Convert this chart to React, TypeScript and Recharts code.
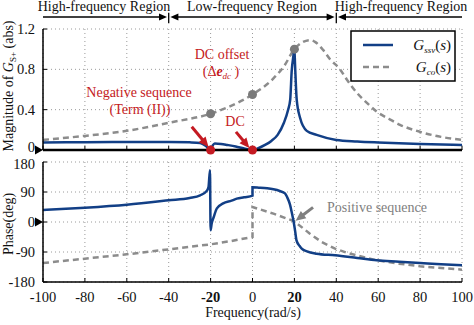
import React from "react";
import {
  LineChart,
  Line,
  XAxis,
  YAxis,
  CartesianGrid,
  ReferenceDot,
  ReferenceLine,
} from "recharts";

// axis ticks
const freqTicks = [-100, -80, -60, -40, -20, 0, 20, 40, 60, 80, 100];
const magTicks = [0, 0.2, 0.4, 0.6, 0.8, 1, 1.2];
const phaseTicks = [-180, -90, 0, 90, 180];

// magnitude, G_ssv(s)
const ssvMagFreq = [-100, -80, -60, -40, -30, -25, -22, -20, -19, -18, -15, -12, -8, -4, 0, 3, 6, 9, 12, 15, 17, 18, 18.7, 19.5, 20, 20.3, 21.1, 22.7, 25.9, 30.6, 40, 50, 60, 80, 100];
const ssvMag = [0.075, 0.078, 0.08, 0.08, 0.076, 0.07, 0.035, 0, 0.045, 0.065, 0.06, 0.05, 0.035, 0.015, 0, 0.02, 0.05, 0.09, 0.15, 0.27, 0.4, 0.5, 0.78, 0.93, 1.0, 0.85, 0.5, 0.32, 0.19, 0.15, 0.1, 0.085, 0.075, 0.06, 0.05];

// magnitude, G_co(s)
const coMagFreq = [-100, -80, -60, -40, -20, -10, 0, 10, 15, 20, 24, 27.4, 30, 33.8, 37, 41.8, 45, 49.7, 55, 59.3, 65, 70.4, 80, 90, 100];
const coMag = [0.1, 0.14, 0.19, 0.27, 0.36, 0.44, 0.55, 0.71, 0.83, 1.0, 1.07, 1.09, 1.07, 0.99, 0.9, 0.8, 0.7, 0.57, 0.46, 0.38, 0.31, 0.25, 0.18, 0.13, 0.1];

// phase (deg), G_ssv(s)
const ssvPhaseFreq = [-100, -80, -60, -40, -30, -25, -22, -21, -20.3, -20, -19.5, -18.5, -17, -14, -10, -7.5, -4, 0, 0, 3, 7, 10, 13, 15.5, 16.5, 17.9, 18.7, 19.5, 20.3, 21, 22.5, 23.5, 26, 30.6, 39.4, 50, 59.3, 70, 80, 90, 100];
const ssvPhase = [36, 43, 52, 65, 72, 80, 92, 105, 155, -25, -5, 15, 41, 56, 64, 70, 74, 79, 104, 103, 101, 98, 93, 86, 75, 52, 30, 5, -25, -55, -72, -80, -88, -95, -100, -108, -115, -119, -123, -127, -130];

// phase (deg), G_co(s)
const coPhaseFreq = [-100, -80, -60, -40, -20, -10, 0, 0, 10, 20, 24, 27.4, 33, 39.4, 45, 49.7, 59.3, 70, 80, 90, 100];
const coPhase = [-123, -110, -97, -82, -67, -57, -45, 45, 25, 2, -18, -35, -60, -80, -92, -100, -115, -125, -133, -138, -143];

const zip = (xs: number[], ys: number[]) => xs.map((f, i) => ({ f, v: ys[i] }));

const BLUE = "#123f86";
const GREY = "#8c8c8c";
const RED = "#c41a22";
const FONT = "'Liberation Serif', 'DejaVu Serif', Times, serif";

const noTick = () => <g />;

// shift: small vertical nudge for labels that would touch the other panel
const yTick = (shift: Record<string, number>) => (p: any) => (
  <text x={p.x} y={p.y + (shift[String(p.payload.value)] || 0)} dy="0.35em" textAnchor="end" fontSize={14.5} fontFamily={FONT} fill="#111">
    {String(p.payload.value)}
  </text>
);

const xTick = (p: any) => {
  const v = p.payload.value;
  return (
    <text x={p.x} y={p.y} dy="0.35em" textAnchor="middle" fontSize={14.5} fontFamily={FONT} fill="#111" fontWeight={Math.abs(v) === 20 ? "bold" : "normal"}>
      {v}
    </text>
  );
};

// line with arrow heads, used through ReferenceLine segments
const arrowShape = (color: string, w: number, len: number, atStart: boolean, atEnd: boolean) => (p: any) => {
  const { x1, y1, x2, y2 } = p;
  const a = Math.atan2(y2 - y1, x2 - x1);
  const hw = len * 0.45;
  const head = (x: number, y: number, ang: number) => {
    const bx = x - len * Math.cos(ang);
    const by = y - len * Math.sin(ang);
    const px = -Math.sin(ang) * hw;
    const py = Math.cos(ang) * hw;
    return <polygon points={`${x},${y} ${bx + px},${by + py} ${bx - px},${by - py}`} fill={color} />;
  };
  const sx = atStart ? x1 + len * 0.8 * Math.cos(a) : x1;
  const sy = atStart ? y1 + len * 0.8 * Math.sin(a) : y1;
  const ex = atEnd ? x2 - len * 0.8 * Math.cos(a) : x2;
  const ey = atEnd ? y2 - len * 0.8 * Math.sin(a) : y2;
  return (
    <g>
      <line x1={sx} y1={sy} x2={ex} y2={ey} stroke={color} strokeWidth={w} />
      {atStart && head(x1, y1, a + Math.PI)}
      {atEnd && head(x2, y2, a)}
    </g>
  );
};

const triangle = (p: any) => (
  <polygon points={`${p.cx - 8},${p.cy - 4.5} ${p.cx},${p.cy} ${p.cx - 8},${p.cy + 4.5}`} fill="#000" />
);

const axisStroke = { stroke: "#000", strokeWidth: 1.5 };

export default function App() {
  return (
    <div style={{ position: "absolute", left: 0, top: 0, width: 474, height: 325, background: "#fff", fontFamily: FONT }}>
      <div style={{ position: "absolute", left: 0, top: 0 }}>
        <LineChart width={474} height={160} margin={{ top: 29, right: 12, bottom: 0, left: 0 }}>
          <CartesianGrid stroke="#9a9a9a" strokeDasharray="1 3" />
          <XAxis dataKey="f" type="number" domain={[-100, 100]} ticks={freqTicks} allowDataOverflow height={10} tickSize={-4} tick={noTick} axisLine={{ stroke: "#000", strokeWidth: 2.5 }} tickLine={{ stroke: "#000" }} />
          <XAxis xAxisId="t" orientation="top" dataKey="f" type="number" domain={[-100, 100]} ticks={freqTicks} height={0} tickSize={-4} tick={noTick} axisLine={axisStroke} tickLine={{ stroke: "#000" }} />
          <YAxis type="number" domain={[0, 1.2]} ticks={magTicks} allowDataOverflow width={43} tickSize={-4} tickMargin={12} tick={yTick({ "0": -3 })} axisLine={axisStroke} tickLine={{ stroke: "#000" }} />
          <YAxis yAxisId="r" orientation="right" type="number" domain={[0, 1.2]} ticks={magTicks} width={0} tickSize={-4} tick={noTick} axisLine={axisStroke} tickLine={{ stroke: "#000" }} />

          <Line data={zip(coMagFreq, coMag)} dataKey="v" type="monotone" stroke={GREY} strokeWidth={2.5} strokeDasharray="6 4" dot={false} isAnimationActive={false} />
          <Line data={zip(ssvMagFreq, ssvMag)} dataKey="v" type="monotone" stroke={BLUE} strokeWidth={2.5} dot={false} isAnimationActive={false} />

          {/* region band above the plot */}
          <ReferenceLine segment={[{ x: -40, y: 1.257 }, { x: -40, y: 1.362 }]} stroke="#000" strokeWidth={1.3} ifOverflow="visible" />
          <ReferenceLine segment={[{ x: 40, y: 1.257 }, { x: 40, y: 1.362 }]} stroke="#000" strokeWidth={1.3} ifOverflow="visible" />
          <ReferenceLine segment={[{ x: -100, y: 1.319 }, { x: -40.8, y: 1.319 }]} ifOverflow="visible" shape={arrowShape("#000", 1.3, 8, false, true)} />
          <ReferenceLine segment={[{ x: -39.2, y: 1.319 }, { x: 39.2, y: 1.319 }]} ifOverflow="visible" shape={arrowShape("#000", 1.3, 8, true, true)} />
          <ReferenceLine segment={[{ x: 40.8, y: 1.319 }, { x: 100, y: 1.319 }]} ifOverflow="visible" shape={arrowShape("#000", 1.3, 8, true, false)} />

          {/* annotation arrows */}
          <ReferenceLine segment={[{ x: -29, y: 0.23 }, { x: -21, y: 0.03 }]} ifOverflow="visible" shape={arrowShape(RED, 3, 10, false, true)} />
          <ReferenceLine segment={[{ x: -7.9, y: 0.18 }, { x: -1.5, y: 0.02 }]} ifOverflow="visible" shape={arrowShape(RED, 3, 10, false, true)} />

          <ReferenceDot x={-20} y={0.36} r={4.5} fill="#7a7a7a" stroke="none" />
          <ReferenceDot x={0} y={0.55} r={4.5} fill="#7a7a7a" stroke="none" />
          <ReferenceDot x={20} y={1.0} r={4.5} fill="#7a7a7a" stroke="none" />
          <ReferenceDot x={-20} y={0} r={4.5} fill={RED} stroke="none" />
          <ReferenceDot x={0} y={0} r={4.5} fill={RED} stroke="none" />
          <ReferenceDot x={-100} y={0} shape={triangle} />
        </LineChart>
      </div>

      <div style={{ position: "absolute", left: 0, top: 150 }}>
        <LineChart width={474} height={175} margin={{ top: 12, right: 12, bottom: 3, left: 0 }}>
          <CartesianGrid stroke="#9a9a9a" strokeDasharray="1 3" />
          <XAxis dataKey="f" type="number" domain={[-100, 100]} ticks={freqTicks} interval={0} allowDataOverflow height={40} tickSize={-4} tickMargin={19} tick={xTick} axisLine={axisStroke} tickLine={{ stroke: "#000" }} />
          <XAxis xAxisId="t" orientation="top" dataKey="f" type="number" domain={[-100, 100]} ticks={freqTicks} height={0} tickSize={-4} tick={noTick} axisLine={axisStroke} tickLine={{ stroke: "#000" }} />
          <YAxis type="number" domain={[-180, 180]} ticks={phaseTicks} allowDataOverflow width={43} tickSize={-4} tickMargin={12} tick={yTick({ "180": 2 })} axisLine={axisStroke} tickLine={{ stroke: "#000" }} />
          <YAxis yAxisId="r" orientation="right" type="number" domain={[-180, 180]} ticks={phaseTicks} width={0} tickSize={-4} tick={noTick} axisLine={axisStroke} tickLine={{ stroke: "#000" }} />

          <Line data={zip(coPhaseFreq, coPhase)} dataKey="v" type="linear" stroke={GREY} strokeWidth={2.5} strokeDasharray="6 4" dot={false} isAnimationActive={false} />
          <Line data={zip(ssvPhaseFreq, ssvPhase)} dataKey="v" type="monotone" stroke={BLUE} strokeWidth={2.5} dot={false} isAnimationActive={false} />

          <ReferenceLine segment={[{ x: 28.9, y: 44 }, { x: 20.6, y: 4 }]} ifOverflow="visible" shape={arrowShape("#808080", 3, 10, false, true)} />
          <ReferenceDot x={-100} y={0} shape={triangle} />
        </LineChart>
      </div>

      <svg width={474} height={325} style={{ position: "absolute", left: 0, top: 0, pointerEvents: "none" }} fontFamily={FONT}>
        {/* regions */}
        <g fontSize={14} fill="#111" textAnchor="middle">
          <text x={104} y={10.5}>High-frequency Region</text>
          <text x={252} y={10.5}>Low-frequency Region</text>
          <text x={401} y={10.5}>High-frequency Region</text>
        </g>

        {/* axis titles */}
        <text transform="translate(13,86) rotate(-90)" textAnchor="middle" fontSize={14} fill="#111">
          Magnitude of <tspan fontStyle="italic">G</tspan>
          <tspan fontSize={9} dy={3}>S+</tspan>
          <tspan dy={-3}> (abs)</tspan>
        </text>
        <text transform="translate(13,224) rotate(-90)" textAnchor="middle" fontSize={14} fill="#111">
          Phase(deg)
        </text>
        <text x={253} y={317} textAnchor="middle" fontSize={14} fill="#111">
          Frequency(rad/s)
        </text>

        {/* annotations */}
        <g fontSize={14} fill={RED} textAnchor="middle">
          <text x={222} y={59}>DC offset</text>
          <text x={221} y={76}>
            (Δ<tspan fontStyle="italic" fontWeight="bold">e</tspan>
            <tspan fontSize={9} dy={3} fontStyle="italic">dc</tspan>
            <tspan dy={-3}> )</tspan>
          </text>
          <text x={139} y={97}>Negative sequence</text>
          <text x={140} y={114}>(Term (II))</text>
          <text x={235} y={126}>DC</text>
        </g>
        <text x={377} y={212} textAnchor="middle" fontSize={14} fill="#808080">
          Positive sequence
        </text>

        {/* legend */}
        <rect x={351} y={31} width={104} height={50} fill="#fff" stroke="#000" strokeWidth={1.5} />
        <line x1={363} y1={45} x2={393} y2={45} stroke={BLUE} strokeWidth={2.5} />
        <line x1={363} y1={67} x2={393} y2={67} stroke={GREY} strokeWidth={2.5} strokeDasharray="6 4" />
        <text x={451} y={50} textAnchor="end" fontSize={15} fill="#111">
          <tspan fontStyle="italic">G</tspan>
          <tspan fontSize={9} dy={3} fontStyle="italic">ssv</tspan>
          <tspan dy={-3}>(</tspan>
          <tspan fontStyle="italic">s</tspan>)
        </text>
        <text x={451} y={72} textAnchor="end" fontSize={15} fill="#111">
          <tspan fontStyle="italic">G</tspan>
          <tspan fontSize={9} dy={3} fontStyle="italic">co</tspan>
          <tspan dy={-3}>(</tspan>
          <tspan fontStyle="italic">s</tspan>)
        </text>
      </svg>
    </div>
  );
}
